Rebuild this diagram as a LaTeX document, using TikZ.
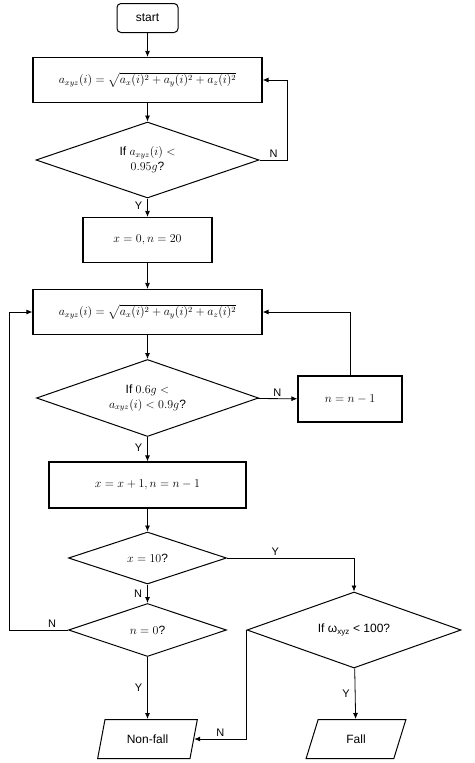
\documentclass[tikz,border=0pt]{standalone}
\usepackage{fontspec}
\setmainfont{Liberation Sans}
\usepackage{amsmath}
\usetikzlibrary{arrows.meta,shapes.geometric}

\begin{document}
\begin{tikzpicture}[x=1pt, y=-1pt, -{Latex[length=6pt,width=5pt]}, line width=0.8pt,
      every node/.append style={font=\fontsize{12}{15}\selectfont,align=center}]
	  \tikzstyle{step box} = [draw,rectangle,line width=1.2pt,minimum height=45pt,inner sep=0pt]
	  \tikzstyle{test} = [draw,diamond,line width=1pt,inner sep=0pt,aspect=3]
	  \tikzstyle{io} = [draw,trapezium,trapezium left angle=75,trapezium right angle=105,
	      trapezium stretches=true,minimum width=100pt,minimum height=39pt,line width=1pt]
	  \tikzstyle{lbl} = [font=\fontsize{11}{13}\selectfont,inner sep=2pt]
	  \useasboundingbox (0,0) rectangle (474,763);
	  \node (1_1) [draw,rounded corners=4pt,line width=1pt,minimum width=61pt,minimum height=29pt] at (147.5,18) {start};
	  \node (1_2) [step box,minimum width=229pt] at (147.5,80)
	      {$a_{xyz}(i) = \sqrt{a_x(i)^2 + a_y(i)^2 + a_z(i)^2}$};
	  \node (1_3) [test,minimum width=223pt,minimum height=76pt] at (147.5,160)
	      {If $a_{xyz}(i) <$\\$0.95g$?};
	  \node (1_4) [step box,minimum width=129pt] at (147.5,240) {$x = 0, n = 20$};
	  \node (1_5) [step box,minimum width=229pt] at (147.5,312)
	      {$a_{xyz}(i) = \sqrt{a_x(i)^2 + a_y(i)^2 + a_z(i)^2}$};
	  \node (1_6) [test,minimum width=222pt,minimum height=77pt] at (147.5,398)
	      {If $0.6g <$\\$a_{xyz}(i) < 0.9g$?};
	  \node (1_7) [step box,minimum width=104pt,minimum height=46pt] at (350,399) {$n = n - 1$};
	  \node (1_8) [step box,minimum width=197pt,minimum height=46pt] at (147.5,485) {$x = x + 1, n = n - 1$};
	  \node (1_9) [test,minimum width=158pt,minimum height=52pt] at (147.5,558) {$x = 10$?};
	  \node (1_10) [test,minimum width=158pt,minimum height=53pt] at (147.5,630) {$n = 0$?};
	  \node (1_11) [test,minimum width=214pt,minimum height=76pt] at (354,630) {If ω\textsubscript{xyz} < 100?};
	  \node (1_12) [io] at (147.5,739) {Non-fall};
	  \node (1_13) [io] at (356,739) {Fall};
	  % main column
	  \draw (1_1) -- (1_2);
	  \draw (1_2) -- (1_3);
	  \draw (1_3) -- node [lbl,left=3pt,pos=.4] {Y} (1_4);
	  \draw (1_4) -- (1_5);
	  \draw (1_5) -- (1_6);
	  \draw (1_6) -- node [lbl,left=3pt,pos=.45] {Y} (1_8);
	  \draw (1_8) -- (1_9);
	  \draw (1_9) -- node [lbl,left=3pt] {N} (1_10);
	  \draw (1_10) -- node [lbl,left=3pt] {Y} (1_12);
	  \draw (1_11) -- node [lbl,left=3pt] {Y} (1_13);
	  % loops back
	  \draw (1_3.east) -- node [lbl,above] {N} ++(28,0) |- (1_2.east);
	  \draw (1_6) -- node [lbl,above] {N} (1_7);
	  \draw (1_7.north) |- (1_5.east);
	  \draw (1_10.west) -- node [lbl,above,pos=.27] {N} ++(-59,0) |- (1_5.west);
	  \draw (1_9.east) -| node [lbl,above,pos=.19] {Y} (1_11.north);
	  \draw (1_11.west) |- node [lbl,above,pos=.75] {N} (1_12.east);
\end{tikzpicture}
\end{document}
